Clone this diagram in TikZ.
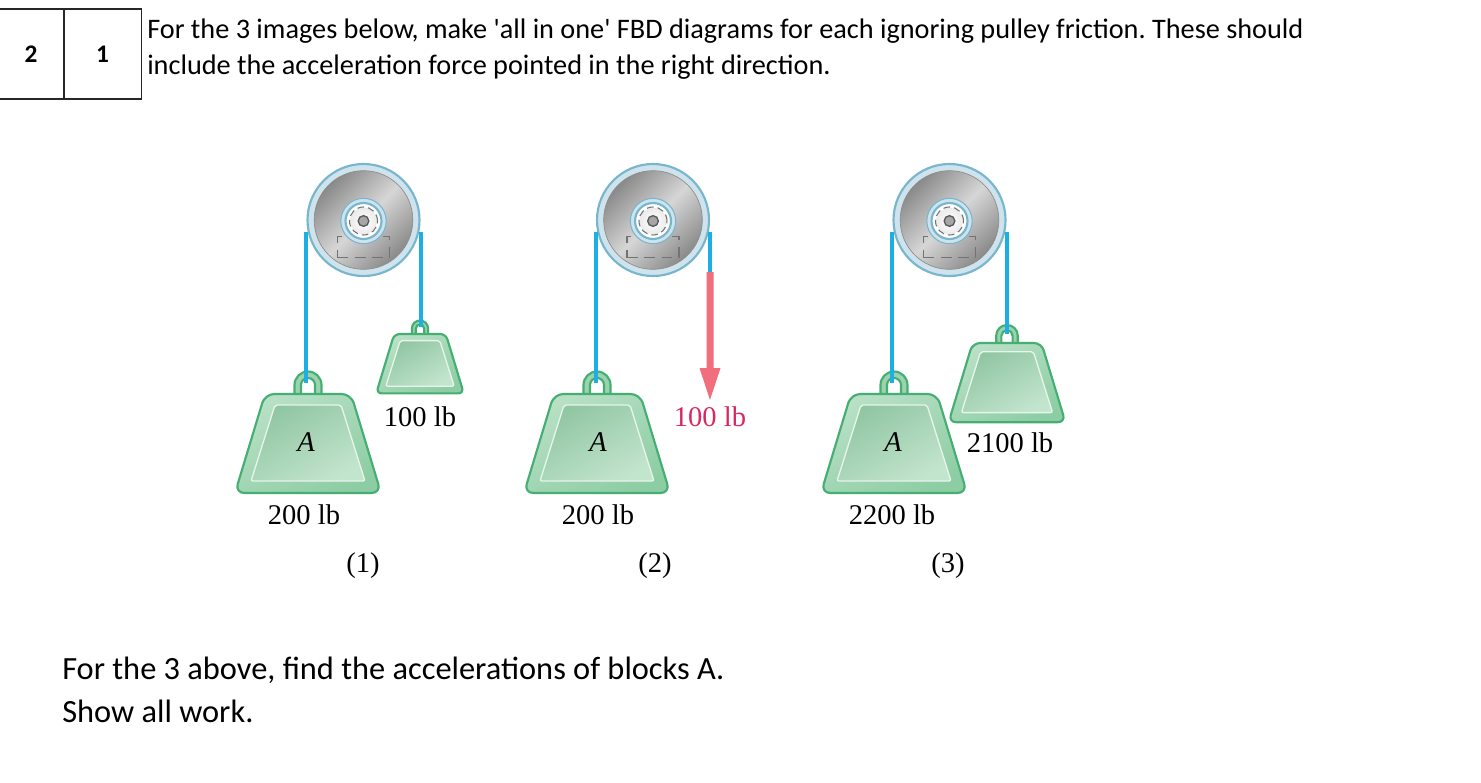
\documentclass[tikz,border=0pt]{standalone}
\usepackage{fontspec}
\setmainfont{Carlito}
\newfontfamily\labelfont{Liberation Serif}
\usepackage{xcolor}
\usetikzlibrary{positioning}
\definecolor{ropeblue}{HTML}{1CAEE4}
\definecolor{rimblue}{HTML}{78B6CE}
\definecolor{rimfill}{HTML}{CFE3EC}
\definecolor{massedge}{HTML}{45AE72}
\definecolor{massfill}{HTML}{9AD3AD}
\definecolor{forcered}{HTML}{F16F7C}
\definecolor{forcetext}{HTML}{D9285F}
\newcommand{\pulleywheel}[3]{
	\node[rim](pulley#1) at (#2,#3){};
	\node[disc](disc#1) at (#2,#3){};
	\node[base](base#1) at (#2,#3+27){};
	\node[hubouter](hubouter#1) at (#2,#3+1){};
	\node[hubinner](hubinner#1) at (#2,#3+1){};
	\node[hubwhite](hubwhite#1) at (#2,#3+1){};
	\node[bearing](bearing#1) at (#2,#3+1){};
	\node[axle](axle#1) at (#2,#3+1){};
}
\newcommand{\massblock}[4]{
	\begin{scope}[shift={(#2,#3)},scale=#4]
		\draw[massline,fill=massfill] (-13.5,1) -- (-13.5,-9) arc (180:360:13.5) -- (13.5,1) -- cycle;
		\draw[massline,fill=white] (-7,1) -- (-7,-9) arc (180:360:7) -- (7,1) -- cycle;
		\draw[massline,rounded corners=#4*7pt,left color=massfill!70!white,right color=massfill!85!massedge,shading angle=30] (0,0) -- (43,0) -- (73,99) -- (-73,99) -- (-43,0) -- cycle;
		\draw[draw=white!75!massfill,line width=1pt,rounded corners=1.5pt,left color=massfill!94!black,right color=massfill!60!white,shading angle=30] (-33,11) -- (33,11) -- (57,87) -- (-57,87) -- cycle;
		\coordinate (hook#1) at (0,-11);
	\end{scope}
}
\begin{document}
\begin{tikzpicture}[x=0.75pt,y=-0.75pt]
	\tikzstyle{rim}=[circle,draw=rimblue,line width=1.6pt,fill=rimfill,minimum size=84pt,inner sep=0pt]
	\tikzstyle{disc}=[circle,draw=black!45,line width=0.5pt,minimum size=74pt,inner sep=0pt,left color=black!46,right color=black!46,middle color=black!16,shading angle=45]
	\tikzstyle{hubouter}=[circle,draw=rimblue,line width=0.8pt,fill=rimfill,minimum size=34pt,inner sep=0pt]
	\tikzstyle{hubinner}=[circle,draw=rimblue,line width=1.6pt,fill=white,minimum size=27pt,inner sep=0pt]
	\tikzstyle{hubwhite}=[circle,inner color=white,outer color=white!92!black,minimum size=20pt,inner sep=0pt]
	\tikzstyle{bearing}=[circle,draw=black!55,line width=0.8pt,dash pattern=on 5pt off 3pt,minimum size=21pt,inner sep=0pt]
	\tikzstyle{axle}=[circle,draw=black!65,line width=1pt,fill=black!35,minimum size=8pt,inner sep=0pt]
	\tikzstyle{base}=[rectangle,draw=black!55,line width=1pt,dash pattern=on 8pt off 5pt,minimum width=39pt,minimum height=16pt,inner sep=0pt]
	\tikzstyle{massline}=[draw=massedge,line width=1.6pt]
	\tikzstyle{rope}=[draw=ropeblue,line width=3pt]
	\tikzstyle{cell}=[rectangle,draw=black!85,line width=0.8pt,font=\bfseries\fontsize{19}{19}\selectfont,inner sep=0pt]
	\tikzstyle{question}=[font=\frenchspacing\fontsize{21.2}{27}\selectfont,anchor=base west,inner sep=0pt]
	\tikzstyle{followup}=[font=\frenchspacing\fontsize{24.3}{27}\selectfont,anchor=base west,inner sep=0pt]
	\tikzstyle{weightlabel}=[font=\labelfont\fontsize{21.4}{21.4}\selectfont,inner sep=0pt]
	\tikzstyle{blocklabel}=[font=\labelfont\itshape\fontsize{21.4}{21.4}\selectfont,inner sep=0pt]
	\useasboundingbox (0,0) rectangle (1481,782);
	\fill[white] (0,0) rectangle (1481,782);
	\node[cell,minimum width=49.5pt,minimum height=67.5pt](cell2) at (31,54){\raisebox{-1.5pt}{2}};
	\node[cell,minimum width=58pt,minimum height=67.5pt](cell1) at (102.5,54){\raisebox{-1.5pt}{1}};
	\node[question](ask1) at (147,38){For the 3 images below, make \textquotesingle all in one\textquotesingle{} FBD diagrams for each ignoring pulley friction. These should};
	\node[question](ask2) at (147,74){include the acceleration force pointed in the right direction.};
	\node[followup](ask3) at (62,679){For the 3 above, find the accelerations of blocks A.};
	\node[followup](ask4) at (62,722){Show all work.};
	\pulleywheel{1}{363.5}{220}
	\pulleywheel{2}{653}{220}
	\pulleywheel{3}{949.5}{220}
	\massblock{1}{308}{394}{1}
	\massblock{2}{597}{394}{1}
	\massblock{3}{894}{394}{1}
	\massblock{4}{420}{334}{0.6}
	\massblock{5}{1007}{343}{0.8}
	\coordinate (forcestart) at (710,274);
	\coordinate (forcetip) at (710,400);
	\draw[rope,shorten <=9pt] (pulley1.west) -- (pulley1.west |- hook1);
	\draw[rope,shorten <=9pt] (pulley1.east) -- (pulley1.east |- hook4);
	\draw[rope,shorten <=9pt] (pulley2.west) -- (pulley2.west |- hook2);
	\draw[rope,shorten <=9pt] (pulley2.east) -- (pulley2.east |- forcestart);
	\draw[rope,shorten <=9pt] (pulley3.west) -- (pulley3.west |- hook3);
	\draw[rope,shorten <=9pt] (pulley3.east) -- (pulley3.east |- hook5);
	\fill[forcered] (706.5,272) -- (713.5,272) -- (713.5,368) -- (720.5,368) -- (forcetip) -- (699.5,368) -- (706.5,368) -- cycle;
	\node[blocklabel](a1) at (306,442){A};
	\node[blocklabel](a2) at (598,442){A};
	\node[blocklabel](a3) at (893,442){A};
	\node[weightlabel](w1) at (304,515){200 lb};
	\node[weightlabel](w2) at (598,515){200 lb};
	\node[weightlabel](w3) at (892,515){2200 lb};
	\node[weightlabel](w4) at (420,417){100 lb};
	\node[weightlabel,text=forcetext](w5) at (710,417){100 lb};
	\node[weightlabel](w6) at (1010,443){2100 lb};
	\node[weightlabel](c1) at (363,566){(1)};
	\node[weightlabel](c2) at (655,566){(2)};
	\node[weightlabel](c3) at (948,566){(3)};
\end{tikzpicture}
\end{document}
